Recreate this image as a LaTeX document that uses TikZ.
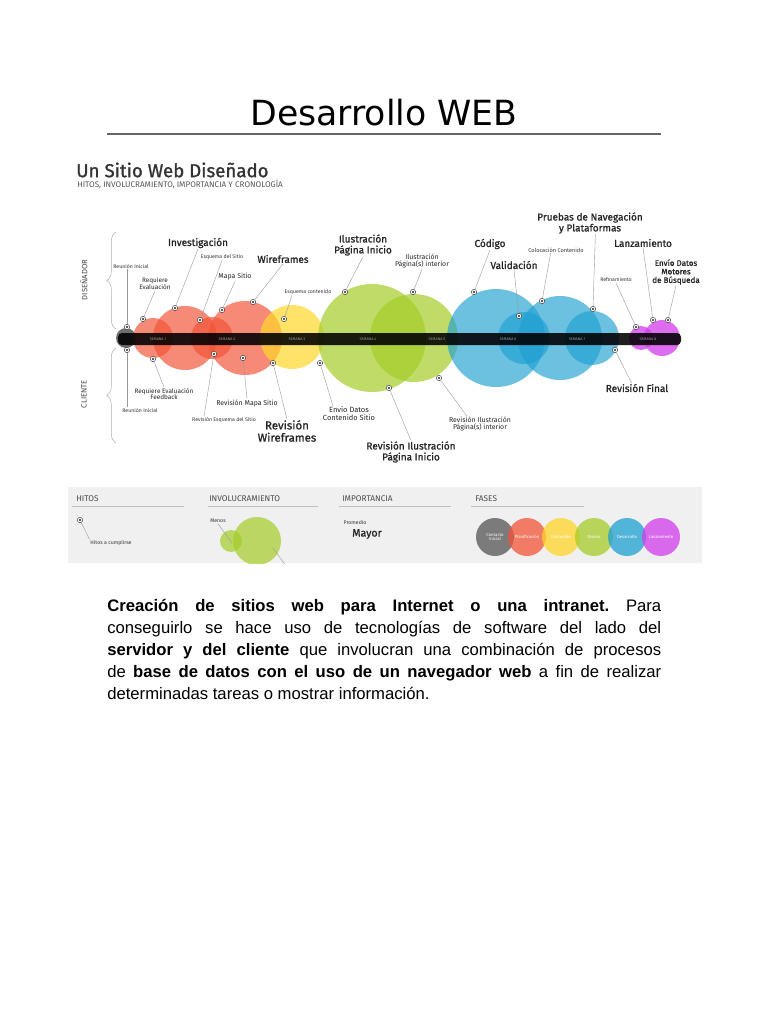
\documentclass[tikz,border=0pt]{standalone}
\usepackage{fontspec}
\setmainfont{Liberation Sans}
\newfontfamily\titlefont{DejaVu Sans}
\newfontfamily\infofont{Fira Sans}
\newfontfamily\infobold{Fira Sans}[FakeBold=1.2]
\usetikzlibrary{decorations.pathreplacing}
\definecolor{fgris}{RGB}{85,85,85}
\definecolor{fred}{RGB}{242,84,54}
\definecolor{fyellow}{RGB}{255,214,40}
\definecolor{fgreen}{RGB}{165,205,40}
\definecolor{fblue}{RGB}{30,160,210}
\definecolor{fmag}{RGB}{210,60,235}
\begin{document}
\begin{tikzpicture}[x=0.75pt,y=-0.75pt,
  hito/.style={circle,draw=black!75,fill=white,line width=0.4pt,inner sep=0pt,minimum size=4pt,
    path picture={\fill[black!85] (path picture bounding box.center) circle (0.9pt);}},
  guia/.style={draw=black!40,line width=0.3pt},
  lgrande/.style={font=\infobold\fontsize{7.5}{8.2}\selectfont,align=center,text=black!85,inner sep=0.5pt},
  lmedia/.style={font=\infofont\fontsize{5.2}{5.8}\selectfont,align=center,text=black!85,inner sep=0.5pt},
  lchica/.style={font=\infofont\fontsize{3.9}{4.3}\selectfont,align=center,text=black!80,inner sep=0.5pt},
  semana/.style={font=\infofont\fontsize{2.8}{3}\selectfont,text=white!60!black},
  encab/.style={font=\infofont\fontsize{6.2}{7}\selectfont,text=black!70,anchor=west,inner sep=0pt},
  llave/.style={draw=black!30,line width=0.4pt,decorate,decoration={brace,amplitude=7pt}},
  fase/.style={font=\infofont\fontsize{3.2}{3.6}\selectfont,text=white,align=center}]
\fill[white] (0,0) rectangle (768,1024);
\useasboundingbox (0,0) rectangle (768,1024);

% titulo
\node (tit) at (384,113) {\titlefont\fontsize{26}{28}\selectfont Desarrollo WEB};
\draw[black!60,line width=1.1pt] (107,134) -- (661,134);

% cabecera del grafico
\node[anchor=west,inner sep=0pt,text=black!80] (gtit) at (76,170)
  {\infobold\fontsize{14}{15}\selectfont Un Sitio Web Diseñado};
\node[anchor=west,inner sep=0pt,text=black!65] (gsub) at (77,184)
  {\infofont\fontsize{6.1}{7}\selectfont HITOS, INVOLUCRAMIENTO, IMPORTANCIA Y CRONOLOGÍA};

% fases (circulos)
\fill[fgris,fill opacity=.85] (126,338) circle (10);
\foreach \cx/\r in {153/20,185/32,212/21,245/37}
  \fill[fred,fill opacity=.68] (\cx,338) circle (\r);
\fill[fyellow,fill opacity=.7] (292,337) circle (32);
\foreach \cx/\r in {372/54,414/44}
  \fill[fgreen,fill opacity=.7] (\cx,338) circle (\r);
\foreach \cx/\r in {496/49,524/26,560/42,592/27}
  \fill[fblue,fill opacity=.65] (\cx,338) circle (\r);
\foreach \cx/\r in {641/12,662/18}
  \fill[fmag,fill opacity=.75] (\cx,338) circle (\r);

% barra de semanas
\fill[black,fill opacity=.88,rounded corners=3] (118,333) rectangle (681,345);
\foreach \x/\n in {158/1,227/2,297/3,368/4,437/5,508/6,577/7,648/8}
  \node[semana] (s\n) at (\x,339) {SEMANA \n};

% diseñador / cliente
\draw[llave] (116,329) -- (116,232);
\draw[llave] (116,443) -- (116,348);
\node[rotate=90,text=black!70,font=\infofont\fontsize{5.8}{6}\selectfont] (dis) at (84,280) {DISEÑADOR};
\node[rotate=90,text=black!70,font=\infofont\fontsize{5.8}{6}\selectfont] (cli) at (84,394) {CLIENTE};

% hitos arriba
\node[hito] (h1) at (127,327) {};
\node[hito] (h2) at (143,319) {};
\node[hito] (h3) at (175,308) {};
\node[hito] (h4) at (200,320) {};
\node[hito] (h5) at (222,310) {};
\node[hito] (h6) at (253,302) {};
\node[hito] (h7) at (284,319) {};
\node[hito] (h8) at (345,292) {};
\node[hito] (h9) at (413,292) {};
\node[hito] (h10) at (474,292) {};
\node[hito] (h11) at (519,316) {};
\node[hito] (h12) at (542,301) {};
\node[hito] (h13) at (593,309) {};
\node[hito] (h14) at (653,320) {};
\node[hito] (h15) at (636,327) {};
\node[hito] (h16) at (668,320) {};
% hitos abajo
\node[hito] (h17) at (127,350) {};
\node[hito] (h18) at (153,359) {};
\node[hito] (h19) at (214,354) {};
\node[hito] (h20) at (243,358) {};
\node[hito] (h21) at (273,363) {};
\node[hito] (h22) at (320,363) {};
\node[hito] (h23) at (389,388) {};
\node[hito] (h24) at (439,378) {};
\node[hito] (h25) at (615,350) {};

% etiquetas arriba
\node[lchica] (ri) at (131,266) {Reunión Inicial};
\node[lmedia,font=\infofont\fontsize{4.8}{5.2}\selectfont] (re) at (155,284) {Requiere\\Evaluación};
\node[lgrande] (inv) at (198,243) {Investigación};
\node[lchica] (es) at (222,257) {Esquema del Sitio};
\node[lmedia] (ms) at (235,277) {Mapa Sitio};
\node[lgrande] (wf) at (283,259) {Wireframes};
\node[lchica] (ec) at (308,292) {Esquema contenido};
\node[lgrande] (ipi) at (363,245) {Ilustración\\Página Inicio};
\node[lmedia] (ipx) at (422,261) {Ilustración\\Página(s) interior};
\node[lgrande] (cod) at (490,244) {Código};
\node[lgrande] (val) at (514,265) {Validación};
\node[lchica,font=\infofont\fontsize{4.2}{4.6}\selectfont] (cc) at (556,250) {Colocación Contenido};
\node[lgrande] (pn) at (590,223) {Pruebas de Navegación\\y Plataformas};
\node[lgrande] (lz) at (643,243) {Lanzamiento};
\node[lchica] (rf) at (616,280) {Refinamiento};
\node[lmedia,font=\infobold\fontsize{6}{6.4}\selectfont] (ed) at (676,272) {Envío Datos\\Motores\\de Búsqueda};
% etiquetas abajo
\node[lchica] (ri2) at (140,410) {Reunión Inicial};
\node[lmedia,font=\infofont\fontsize{4.8}{5.2}\selectfont] (ref) at (164,394) {Requiere Evaluación\\Feedback};
\node[lchica] (res) at (224,420) {Revisión Esquema del Sitio};
\node[lmedia] (rms) at (247,403) {Revisión Mapa Sitio};
\node[lgrande,font=\infobold\fontsize{8.6}{9.2}\selectfont] (rwf) at (287,431) {Revisión\\Wireframes};
\node[lmedia,font=\infofont\fontsize{5.6}{6}\selectfont] (edc) at (349,414) {Envío Datos\\Contenido Sitio};
\node[lgrande] (rip) at (411,452) {Revisión Ilustración\\Página Inicio};
\node[lmedia] (rix) at (480,424) {Revisión Ilustración\\Página(s) interior};
\node[lgrande] (rfin) at (637,388) {Revisión Final};

% guias
\draw[guia] (ri.south -| h1) -- (h1);
\draw[guia] (re.south) -- (h2);
\draw[guia] (inv.south) -- (h3);
\draw[guia] (es.south) -- (h4);
\draw[guia] (ms.south) -- (h5);
\draw[guia] (wf.south) -- (h6);
\draw[guia] ([xshift=-12pt]ec.south) -- (h7);
\draw[guia] (ipi.south) -- (h8);
\draw[guia] (ipx.south) -- (h9);
\draw[guia] (cod.south) -- (h10);
\draw[guia] (val.south) -- (h11);
\draw[guia] ([xshift=-4pt]cc.south) -- (h12);
\draw[guia] ([xshift=4pt]pn.south) -- (h13);
\draw[guia] (lz.south) -- (h14);
\draw[guia] (rf.south) -- (h15);
\draw[guia] (ed.south) -- (h16);
\draw[guia] (h17) -- (h17 |- ri2.north);
\draw[guia] (h18) -- (ref.north);
\draw[guia] (h19) -- ([xshift=-15pt]res.north);
\draw[guia] (h20) -- (rms.north);
\draw[guia] (h21) -- (rwf.north);
\draw[guia] (h22) -- ([xshift=-12pt]edc.north);
\draw[guia] (h23) -- (rip.north);
\draw[guia] (h24) -- ([xshift=-10pt]rix.north);
\draw[guia] (h25) -- ([xshift=-4pt]rfin.north);

% leyenda
\fill[black!6] (68,487) rectangle (702,563);
\node[encab] (lhit) at (76,499) {HITOS};
\node[encab] (linv) at (209,499) {INVOLUCRAMIENTO};
\node[encab] (limp) at (342,499) {IMPORTANCIA};
\node[encab] (lfas) at (475,499) {FASES};
\foreach \a/\b in {72/184,208/318,339/451,471/584}
  \draw[black!25,line width=0.4pt] (\a,506) -- (\b,506);
\node[hito] (lh) at (80,520) {};
\node[lchica] (lhc) at (111,543) {Hitos a cumplirse};
\draw[guia] (lh) -- (lhc.north west);
\begin{scope}
  \clip (68,487) rectangle (702,563);
  \fill[fgreen,fill opacity=.7] (231,541) circle (11);
  \fill[fgreen,fill opacity=.7] (257,541) circle (24);
  \coordinate (cb1) at (273,548);
  \coordinate (cb2) at (286,566);
  \draw[guia] (cb1) -- (cb2);
\end{scope}
\node[lchica] (menos) at (218,521) {Menos};
\coordinate (cm) at (232,543);
\draw[guia] (menos.south) -- (cm);
\node[lchica] (prom) at (355,522) {Promedio};
\node[text=black!85,font=\infobold\fontsize{8}{9}\selectfont] (mayor) at (367,534) {Mayor};
\foreach \i/\cx/\c/\t in {1/495/fgris/{Contacto\\Inicial},2/527/fred/Planificación,3/561/fyellow/Contenido,
    4/594/fgreen/Diseño,5/627/fblue/Desarrollo,6/661/fmag/Lanzamiento}{
  \fill[\c,fill opacity=.75] (\cx,537) circle (19);
  \node[fase] (f\i) at (\cx,537) {\t};
}

% texto
\node[anchor=north west,inner sep=0pt,text width=415.5pt,align=justify,
  font=\fontsize{12.5}{16.5}\selectfont\frenchspacing] (txt) at (107,599)
  {\textbf{Creación de sitios web para Internet o una intranet.} Para\linebreak
   conseguirlo se hace uso de tecnologías de software del lado del\linebreak
   \textbf{servidor y del cliente} que involucran una combinación de procesos\linebreak
   de \textbf{base de datos con el uso de un navegador web} a fin de realizar\linebreak
   determinadas tareas o mostrar información.};
\end{tikzpicture}
\end{document}
